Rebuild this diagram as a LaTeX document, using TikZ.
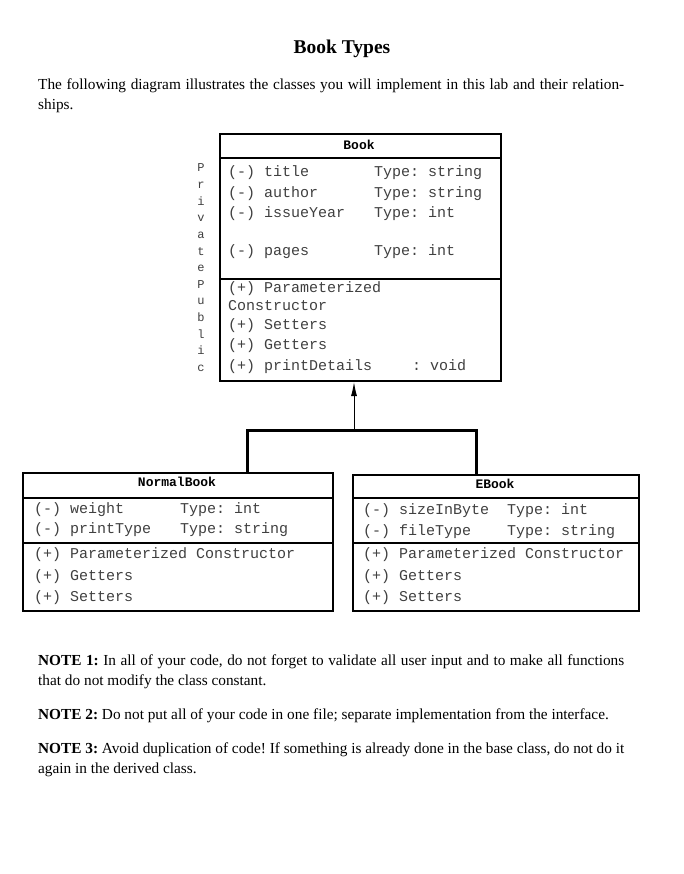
\documentclass[tikz,border=0pt]{standalone}
\usepackage{fontspec}
\usetikzlibrary{arrows.meta}
\setmainfont{Liberation Serif}
\newfontfamily\mono{Liberation Mono}
\begin{document}
\frenchspacing
\begin{tikzpicture}[x=1pt,y=-1pt,
  box/.style={draw,line width=2pt},
  sep/.style={line width=1.6pt},
  m/.style={font=\mono\fontsize{15}{16}\selectfont,anchor=base west,inner sep=0pt,text=black!75},
  mb/.style={font=\mono\bfseries\fontsize{13}{15}\selectfont,anchor=base,inner sep=0pt},
  para/.style={anchor=north west,inner sep=0pt,text width=586pt,align=justify,font=\fontsize{15.3}{20}\selectfont}]
\useasboundingbox[fill=white] (0,0) rectangle (684,874);
\node[font=\bfseries\fontsize{19.5}{22}\selectfont,anchor=base] (title) at (342,54) {Book Types};
\node[para] (intro) at (38,79) {The following diagram illustrates the classes you will implement in this lab and their relationships.};
% Book
\node[box,minimum width=281pt,minimum height=247pt,anchor=north west,inner sep=0pt] (book) at (219,133) {};
\draw[sep] (219,158) -- (500,158);
\draw[sep] (219,279) -- (500,279);
\node[mb] (bt) at (359,150) {Book};
\node[m] (b1) at (228,177) {(-) title};
\node[m] (b1t) at (374,177) {Type: string};
\node[m] (b2) at (228,198) {(-) author};
\node[m] (b2t) at (374,198) {Type: string};
\node[m] (b3) at (228,218) {(-) issueYear};
\node[m] (b3t) at (374,218) {Type: int};
\node[m] (b4) at (228,255) {(-) pages};
\node[m] (b4t) at (374,255) {Type: int};
\node[m] (b5) at (228,292) {(+) Parameterized};
\node[m] (b6) at (228,310) {Constructor};
\node[m] (b7) at (228,329) {(+) Setters};
\node[m] (b8) at (228,349) {(+) Getters};
\node[m] (b9) at (228,370) {(+) printDetails};
\node[m] (b9t) at (412,370) {: void};
\foreach \c [count=\i] in {P,r,i,v,a,t,e,P,u,b,l,i,c}
  \node[font=\mono\fontsize{12}{14}\selectfont,text=black!75,anchor=base,inner sep=0pt] (v\i) at (201,{172+(\i-1)*16.6}) {\c};
% NormalBook
\node[box,minimum width=310pt,minimum height=138pt,anchor=north west,inner sep=0pt] (nb) at (22,472) {};
\draw[sep] (22,498) -- (332,498);
\draw[sep] (22,543) -- (332,543);
\node[mb] (nbt) at (177,486) {NormalBook};
\node[m] (n1) at (34,513) {(-) weight};
\node[m] (n1t) at (180,513) {Type: int};
\node[m] (n2) at (34,533) {(-) printType};
\node[m] (n2t) at (180,533) {Type: string};
\node[m] (n3) at (34,558) {(+) Parameterized Constructor};
\node[m] (n4) at (34,580) {(+) Getters};
\node[m] (n5) at (34,601) {(+) Setters};
% EBook
\node[box,minimum width=286pt,minimum height=136pt,anchor=north west,inner sep=0pt] (eb) at (352,474) {};
\draw[sep] (352,498) -- (638,498);
\draw[sep] (352,543) -- (638,543);
\node[mb] (ebt) at (495,488) {EBook};
\node[m] (e1) at (363,514) {(-) sizeInByte};
\node[m] (e1t) at (507,514) {Type: int};
\node[m] (e2) at (363,535) {(-) fileType};
\node[m] (e2t) at (507,535) {Type: string};
\node[m] (e3) at (363,558) {(+) Parameterized Constructor};
\node[m] (e4) at (363,580) {(+) Getters};
\node[m] (e5) at (363,601) {(+) Setters};
% connectors
\coordinate (j) at (354,430);
\coordinate (jl) at (247,430);
\coordinate (jr) at (476,430);
\draw[line width=1pt,-{Latex[length=14pt,width=6pt]}] (j) -- (j |- book.south);
\draw[line width=3pt] (nb.north -| jl) -- (jl) -- (jr) -- (eb.north -| jr);
% notes
\node[para] (n1note) at (38,655) {\textbf{NOTE 1:} In all of your code, do not forget to validate all user input and to make all functions that do not modify the class constant.};
\node[para] (n2note) at (38,709) {\textbf{NOTE 2:} Do not put all of your code in one file; separate implementation from the interface.};
\node[para] (n3note) at (38,743) {\textbf{NOTE 3:} Avoid duplication of code! If something is already done in the base class, do not do it again in the derived class.};
\end{tikzpicture}
\end{document}
